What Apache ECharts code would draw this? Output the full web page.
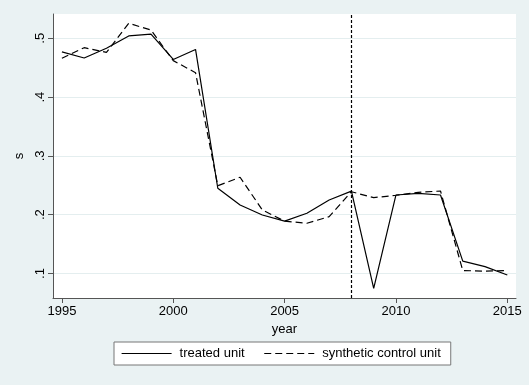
<!DOCTYPE html>
<html>
<head>
<meta charset="utf-8">
<script src="https://cdn.jsdelivr.net/npm/echarts@6/dist/echarts.min.js"></script>
<style>
html,body{margin:0;padding:0;background:#eaf2f3;}
#chart{width:529px;height:385px;}
</style>
</head>
<body>
<div id="chart"></div>
<script>
var years = [1995,1996,1997,1998,1999,2000,2001,2002,2003,2004,2005,2006,2007,2008,2009,2010,2011,2012,2013,2014,2015];
var treated = [0.477,0.4665,0.483,0.504,0.507,0.464,0.481,0.245,0.2165,0.1995,0.189,0.2024,0.225,0.240,0.0748,0.2335,0.2364,0.2335,0.121,0.1116,0.0975];
var synthetic = [0.466,0.484,0.476,0.5255,0.514,0.462,0.4415,0.2493,0.2636,0.208,0.189,0.1854,0.1966,0.239,0.229,0.233,0.238,0.2403,0.105,0.104,0.105];
var xTicks = [1995,2000,2005,2010,2015];
var yTicks = [0.1,0.2,0.3,0.4,0.5];
var yTickLabels = ['.1','.2','.3','.4','.5'];
var treatmentYear = 2008;
var seriesNames = ['treated unit','synthetic control unit'];

function pairs(xs, ys){ return xs.map(function(x,i){ return [x, ys[i]]; }); }

var FONT = 'Liberation Sans, Arial, Helvetica, sans-serif';
var chart = echarts.init(document.getElementById('chart'), null, {renderer:'canvas'});
chart.setOption({
  backgroundColor: '#eaf2f3',
  animation: false,
  textStyle: {fontFamily: FONT},
  grid: {left: 53, right: 13, top: 14, bottom: 87, show: true, backgroundColor: '#ffffff', borderWidth: 0},
  legend: {
    left: 114, top: 342,
    backgroundColor: '#ffffff', borderColor: '#777777', borderWidth: 1,
    padding: [5, 10, 5, 7],
    itemWidth: 50, itemHeight: 14, itemGap: 19,
    itemStyle: {opacity: 0},
    textStyle: {fontFamily: FONT, fontSize: 13, color: '#000', padding: [0,0,0,3]},
    data: [
      {name: seriesNames[0], lineStyle: {color: '#000', width: 1.2, type: 'solid'}},
      {name: seriesNames[1], lineStyle: {color: '#000', width: 1.2, type: [7,4]}}
    ]
  },
  xAxis: {
    type: 'value', min: 1994.6, max: 2015.39,
    name: 'year', nameLocation: 'middle', nameGap: 23,
    nameTextStyle: {fontFamily: FONT, fontSize: 13, color: '#000'},
    axisLine: {show: true, onZero: false, lineStyle: {color: '#555', width: 1}},
    axisTick: {show: true, length: 5, customValues: xTicks, lineStyle: {color: '#555'}},
    axisLabel: {customValues: xTicks, margin: 7, fontFamily: FONT, fontSize: 13, color: '#000', formatter: function(v){return String(v);}},
    splitLine: {show: false}
  },
  yAxis: {
    type: 'value', min: 0.0583, max: 0.5413,
    name: 's', nameLocation: 'middle', nameGap: 21, nameRotate: 90,
    nameTextStyle: {fontFamily: FONT, fontSize: 13, color: '#000'},
    axisLine: {show: true, onZero: false, lineStyle: {color: '#555', width: 1}},
    axisTick: {show: true, length: 5, customValues: yTicks, lineStyle: {color: '#555'}},
    axisLabel: {customValues: yTicks, rotate: 90, margin: 6, fontFamily: FONT, fontSize: 13, color: '#000',
      formatter: function(v){ var i = yTicks.findIndex(function(t){return Math.abs(t-v)<1e-9;}); return i>=0 ? yTickLabels[i] : ''; }},
    splitLine: {show: true, lineStyle: {color: '#e4eeef', width: 1}}
  },
  series: [
    {
      name: seriesNames[0], type: 'line', data: pairs(years, treated),
      symbol: 'none', lineStyle: {color: '#000', width: 1.2, type: 'solid'}, itemStyle: {color: '#000'},
      z: 3,
      markLine: {
        silent: true, symbol: ['none','none'], label: {show: false},
        lineStyle: {color: '#000', width: 1.2, type: [3,2]},
        data: [{xAxis: treatmentYear}]
      }
    },
    {
      name: seriesNames[1], type: 'line', data: pairs(years, synthetic),
      symbol: 'none', lineStyle: {color: '#000', width: 1.2, type: [7,4]}, itemStyle: {color: '#000'},
      z: 2
    }
  ]
});
</script>
</body>
</html>
